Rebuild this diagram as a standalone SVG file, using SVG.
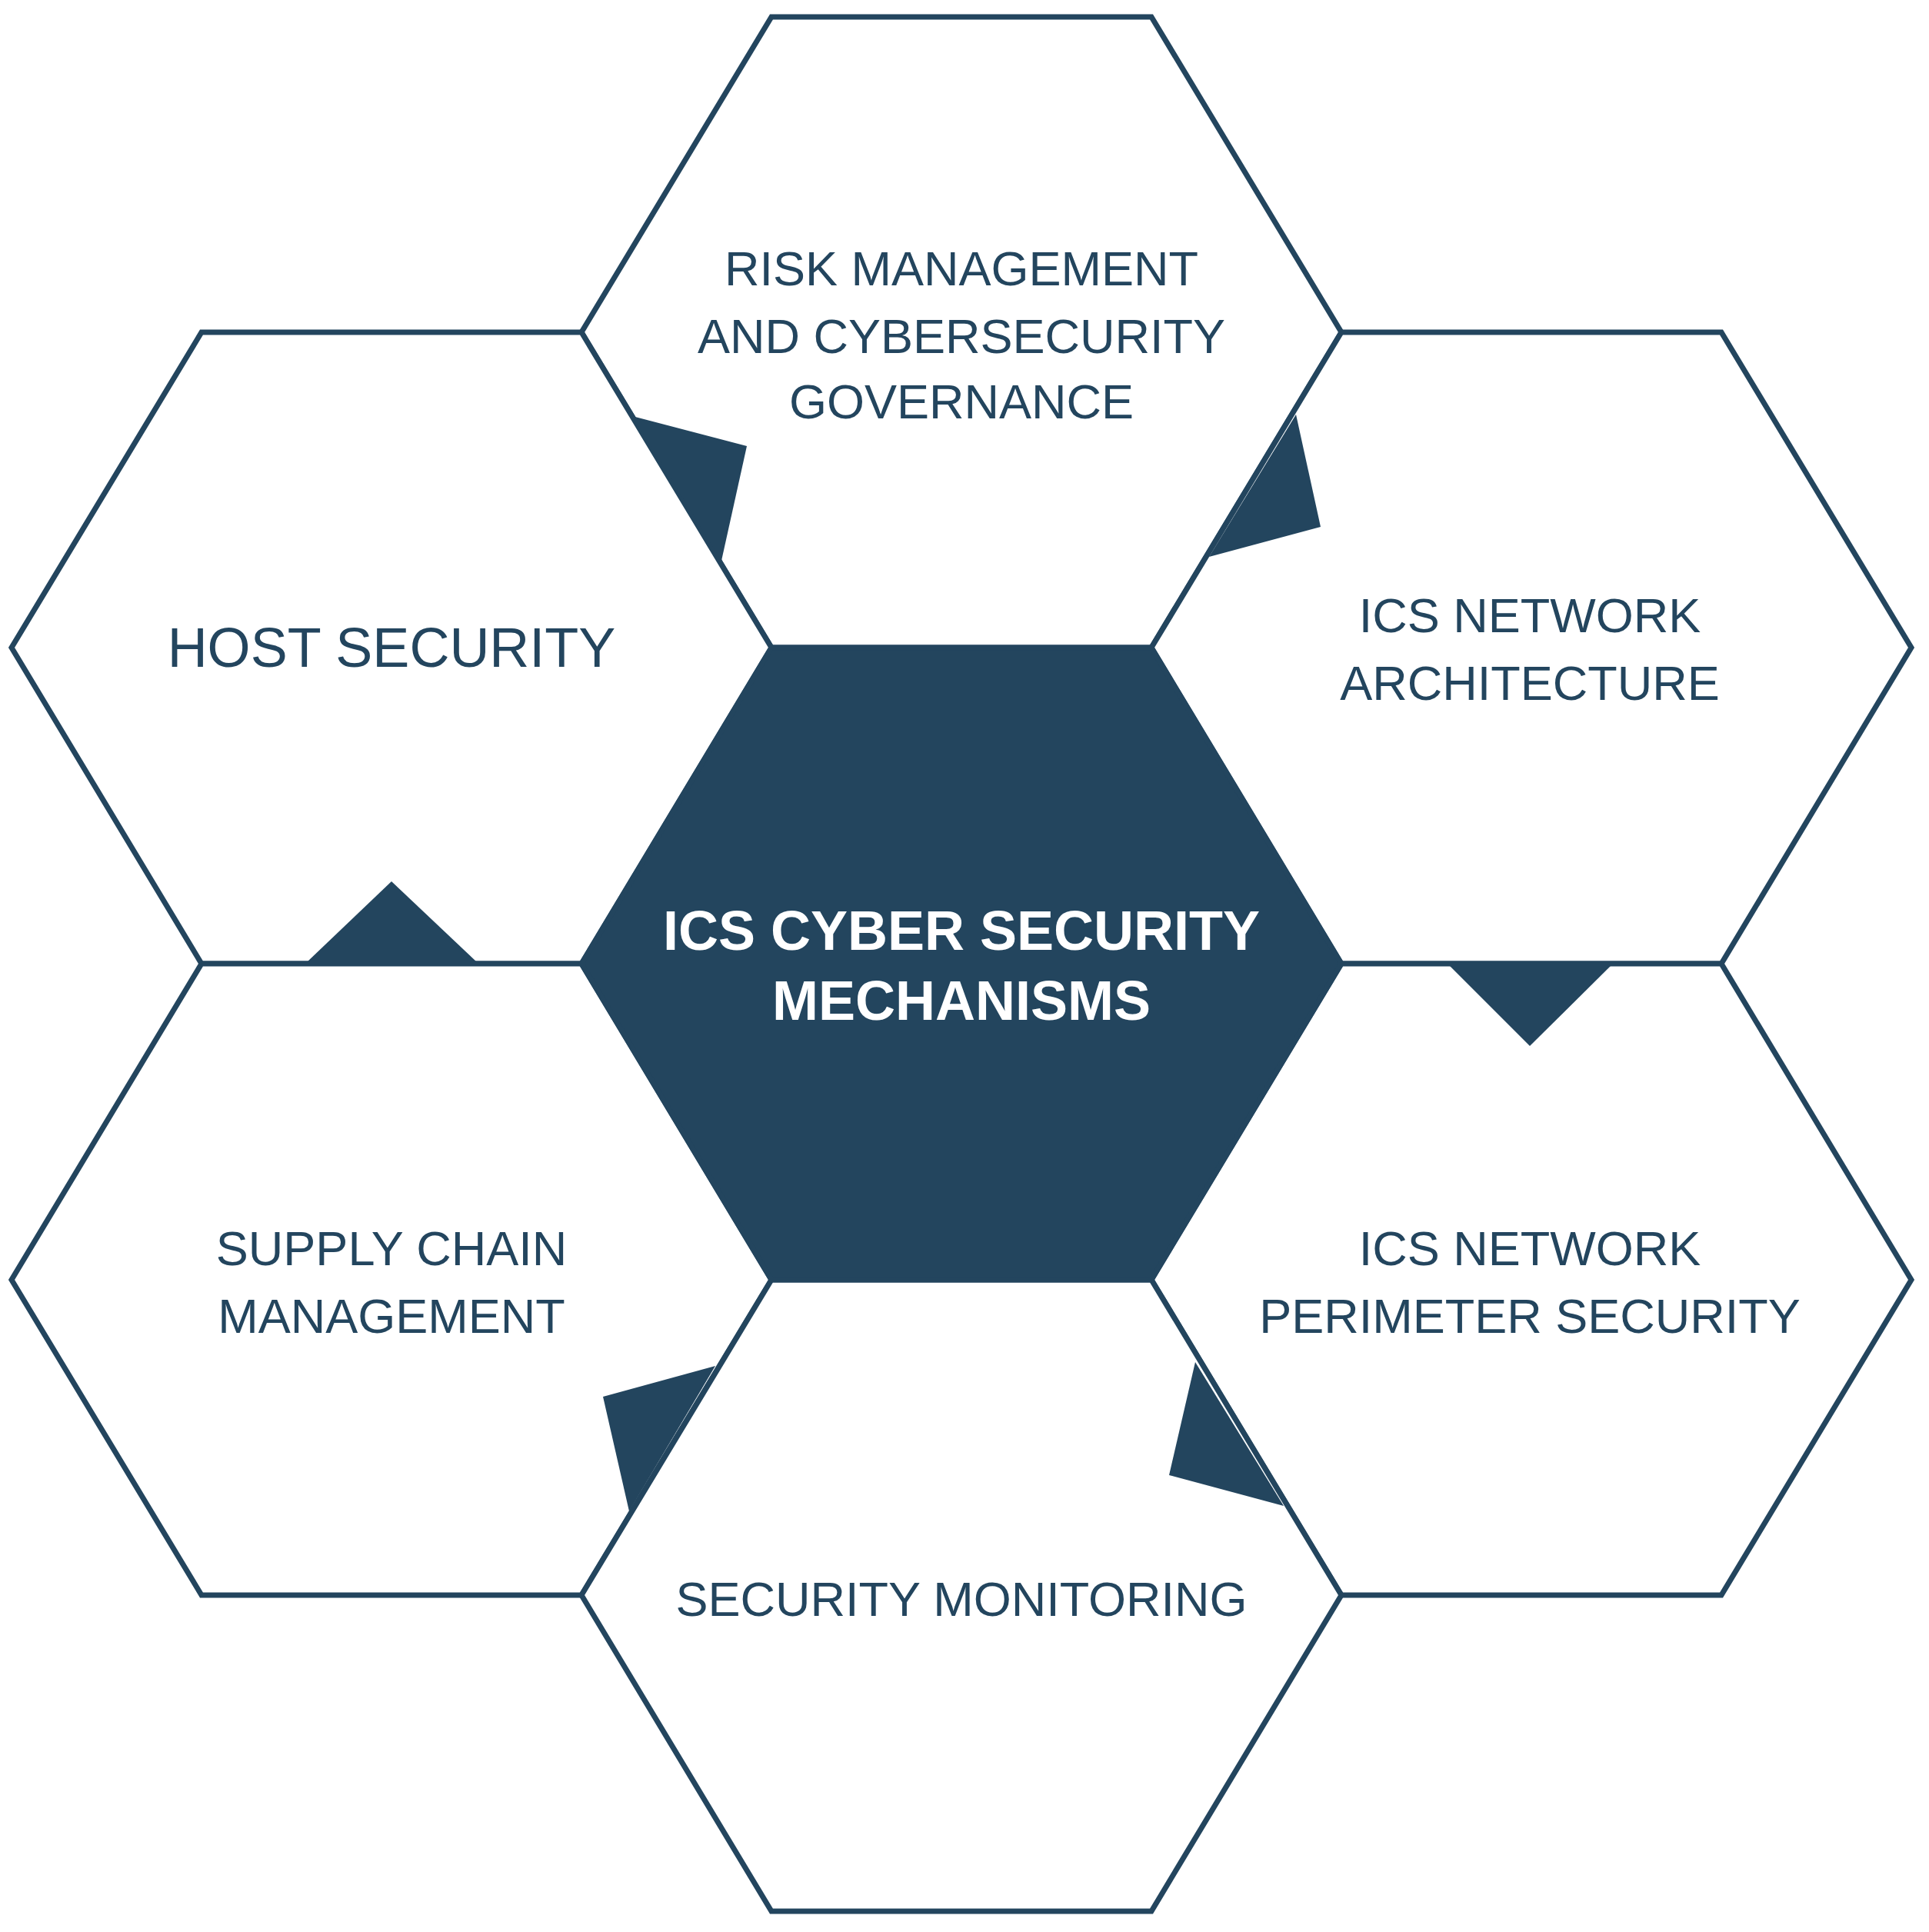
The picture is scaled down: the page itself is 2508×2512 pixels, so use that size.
<svg xmlns="http://www.w3.org/2000/svg" width="2508" height="2512" viewBox="0 0 2508 2512">
<style>
.hex{fill:#fff;stroke:#23455e;stroke-width:7;stroke-linejoin:miter}
.core{fill:#23455e;stroke:#23455e;stroke-width:7}
.notch{fill:#23455e;stroke:none}
.t{font-family:"Liberation Sans",Arial,sans-serif;font-size:63px;fill:#23455e;text-anchor:middle}
.big{font-size:72px}
.title{font-family:"Liberation Sans",Arial,sans-serif;font-size:72px;font-weight:bold;fill:#fff;text-anchor:middle}
</style>
<rect width="2508" height="2512" fill="#fff"/>
<g id="top"><polygon class="hex" points="1003,22 1497,22 1744,432 1497,842 1003,842 756,432"/>
<text class="t" x="1250" y="371">RISK MANAGEMENT</text><text class="t" x="1250" y="459">AND CYBERSECURITY</text><text class="t" x="1250" y="544">GOVERNANCE</text></g>
<g id="host"><polygon class="hex" points="262,432 756,432 1003,842 756,1253 262,1253 15,842"/>
<text class="t big" x="509" y="867">HOST SECURITY</text></g>
<g id="arch"><polygon class="hex" points="1744,432 2238,432 2485,842 2238,1253 1744,1253 1497,842"/>
<text class="t" x="1989" y="822">ICS NETWORK</text><text class="t" x="1989" y="910">ARCHITECTURE</text></g>
<g id="supply"><polygon class="hex" points="262,1253 756,1253 1003,1664 756,2074 262,2074 15,1664"/>
<text class="t" x="509" y="1645">SUPPLY CHAIN</text><text class="t" x="509" y="1733">MANAGEMENT</text></g>
<g id="perimeter"><polygon class="hex" points="1744,1253 2238,1253 2485,1664 2238,2074 1744,2074 1497,1664"/>
<text class="t" x="1989" y="1645">ICS NETWORK</text><text class="t" x="1989" y="1733">PERIMETER SECURITY</text></g>
<g id="monitoring"><polygon class="hex" points="1003,1664 1497,1664 1744,2074 1497,2485 1003,2485 756,2074"/>
<text class="t" x="1250" y="2101">SECURITY MONITORING</text></g>
<g id="center"><polygon class="core" points="1003,842 1497,842 1744,1253 1497,1664 1003,1664 756,1253"/>
<text class="title" x="1250" y="1235">ICS CYBER SECURITY</text><text class="title" x="1250" y="1326">MECHANISMS</text></g>
<g id="connectors">
<polygon class="notch" points="822,541 971,580 938,729"/>
<polygon class="notch" points="1685,539 1717,685 1572,724"/>
<polygon class="notch" points="400,1250 509,1146 619,1250"/>
<polygon class="notch" points="1885,1256 1989,1360 2094,1256"/>
<polygon class="notch" points="930,1776 784,1816 818,1965"/>
<polygon class="notch" points="1554,1771 1520,1918 1669,1958"/>
</g>
</svg>
